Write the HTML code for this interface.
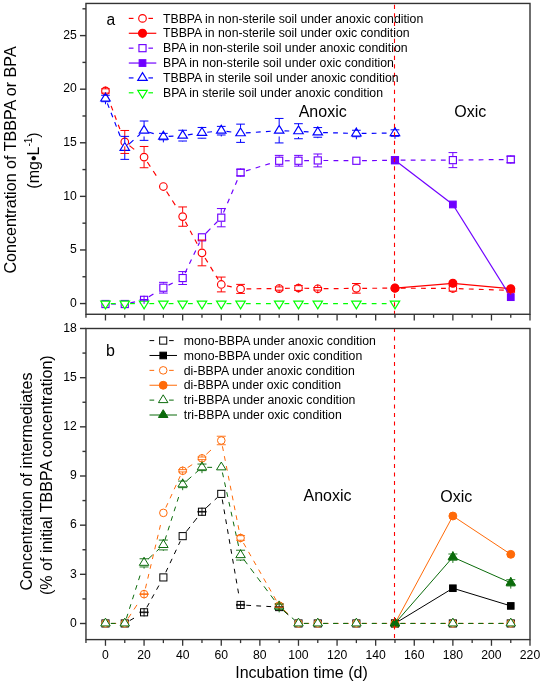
<!DOCTYPE html>
<html lang="en"><head><meta charset="utf-8"><title>Figure</title>
<style>html,body{margin:0;padding:0;background:#fff}body{width:543px;height:685px;overflow:hidden}</style></head>
<body>
<svg width="543" height="685" viewBox="0 0 543 685" style="display:block" font-family='"Liberation Sans", sans-serif'>
<rect width="543" height="685" fill="#fff"/>
<line x1="107.56" y1="96.47" x2="119.92" y2="129.16" stroke="#ff0000" stroke-width="1.18" stroke-dasharray="4.8 5.25"/>
<line x1="129.41" y1="145.61" x2="134.21" y2="149.37" stroke="#ff0000" stroke-width="1.18" stroke-dasharray="6.09 5.25"/>
<line x1="147.31" y1="162.04" x2="156.24" y2="175.66" stroke="#ff0000" stroke-width="1.18" stroke-dasharray="5.52 5.25"/>
<line x1="166.56" y1="191.5" x2="175.26" y2="205.06" stroke="#ff0000" stroke-width="1.18" stroke-dasharray="5.43 5.25"/>
<line x1="185.44" y1="221.82" x2="199.2" y2="247.7" stroke="#ff0000" stroke-width="1.18" stroke-dasharray="4.8 5.25"/>
<line x1="205.05" y1="257.94" x2="218.19" y2="279.45" stroke="#ff0000" stroke-width="1.18" stroke-dasharray="5.23 5.25"/>
<line x1="227.02" y1="285.8" x2="234.82" y2="287.57" stroke="#ff0000" stroke-width="1.18" stroke-dasharray="4.8 5.25"/>
<line x1="246.47" y1="288.84" x2="273.27" y2="288.61" stroke="#ff0000" stroke-width="1.18" stroke-dasharray="4.8 5.25"/>
<line x1="285.07" y1="288.4" x2="292.57" y2="288.19" stroke="#ff0000" stroke-width="1.18" stroke-dasharray="4.8 5.25"/>
<line x1="304.37" y1="288.26" x2="311.87" y2="288.55" stroke="#ff0000" stroke-width="1.18" stroke-dasharray="4.8 5.25"/>
<line x1="323.67" y1="288.71" x2="350.47" y2="288.41" stroke="#ff0000" stroke-width="1.18" stroke-dasharray="4.8 5.25"/>
<line x1="362.27" y1="288.32" x2="389.07" y2="288.17" stroke="#ff0000" stroke-width="1.18" stroke-dasharray="4.8 5.25"/>
<line x1="400.87" y1="288.17" x2="446.97" y2="288.42" stroke="#ff0000" stroke-width="1.18" stroke-dasharray="4.8 5.25"/>
<line x1="458.77" y1="288.65" x2="504.87" y2="290.19" stroke="#ff0000" stroke-width="1.18" stroke-dasharray="4.8 5.25"/>
<circle cx="105.47" cy="90.95" r="3.8" fill="#fff" stroke="#ff0000" stroke-width="1.15"/>
<circle cx="124.77" cy="141.96" r="3.8" fill="#fff" stroke="#ff0000" stroke-width="1.15"/>
<circle cx="144.07" cy="157.11" r="3.8" fill="#fff" stroke="#ff0000" stroke-width="1.15"/>
<circle cx="163.37" cy="186.53" r="3.8" fill="#fff" stroke="#ff0000" stroke-width="1.15"/>
<circle cx="182.67" cy="216.61" r="3.8" fill="#fff" stroke="#ff0000" stroke-width="1.15"/>
<circle cx="201.97" cy="252.91" r="3.8" fill="#fff" stroke="#ff0000" stroke-width="1.15"/>
<circle cx="221.27" cy="284.48" r="3.8" fill="#fff" stroke="#ff0000" stroke-width="1.15"/>
<circle cx="240.57" cy="288.89" r="3.8" fill="#fff" stroke="#ff0000" stroke-width="1.15"/>
<circle cx="279.17" cy="288.56" r="3.8" fill="#fff" stroke="#ff0000" stroke-width="1.15"/>
<circle cx="298.47" cy="288.03" r="3.8" fill="#fff" stroke="#ff0000" stroke-width="1.15"/>
<circle cx="317.77" cy="288.78" r="3.8" fill="#fff" stroke="#ff0000" stroke-width="1.15"/>
<circle cx="356.37" cy="288.35" r="3.8" fill="#fff" stroke="#ff0000" stroke-width="1.15"/>
<circle cx="394.97" cy="288.13" r="3.8" fill="#fff" stroke="#ff0000" stroke-width="1.15"/>
<circle cx="452.87" cy="288.46" r="3.8" fill="#fff" stroke="#ff0000" stroke-width="1.15"/>
<circle cx="510.77" cy="290.39" r="3.8" fill="#fff" stroke="#ff0000" stroke-width="1.15"/>
<line x1="394.97" y1="288.13" x2="452.87" y2="283.3" stroke="#ff0000" stroke-width="1.18"/>
<line x1="452.87" y1="283.3" x2="510.77" y2="288.78" stroke="#ff0000" stroke-width="1.18"/>
<circle cx="394.97" cy="288.13" r="3.95" fill="#ff0000" stroke="#ff0000" stroke-width="1.15"/>
<circle cx="452.87" cy="283.3" r="3.95" fill="#ff0000" stroke="#ff0000" stroke-width="1.15"/>
<circle cx="510.77" cy="288.78" r="3.95" fill="#ff0000" stroke="#ff0000" stroke-width="1.15"/>
<line x1="111.17" y1="304.03" x2="119.07" y2="304.03" stroke="#6f00ff" stroke-width="1.18" stroke-dasharray="4.8 5.25"/>
<line x1="130.34" y1="302.82" x2="138.5" y2="301.05" stroke="#6f00ff" stroke-width="1.18" stroke-dasharray="4.8 5.25"/>
<line x1="148.9" y1="296.81" x2="153.42" y2="293.96" stroke="#6f00ff" stroke-width="1.18" stroke-dasharray="5.35 5.25"/>
<line x1="168.47" y1="285.15" x2="172.76" y2="283" stroke="#6f00ff" stroke-width="1.18" stroke-dasharray="4.8 5.25"/>
<line x1="185.11" y1="272.89" x2="199.53" y2="242.48" stroke="#6f00ff" stroke-width="1.18" stroke-dasharray="4.8 5.25"/>
<line x1="205.96" y1="233.27" x2="217.28" y2="221.75" stroke="#6f00ff" stroke-width="1.18" stroke-dasharray="6.4 5.25"/>
<line x1="223.51" y1="212.44" x2="238.33" y2="177.81" stroke="#6f00ff" stroke-width="1.18" stroke-dasharray="4.8 5.25"/>
<line x1="246.02" y1="170.9" x2="273.72" y2="162.43" stroke="#6f00ff" stroke-width="1.18" stroke-dasharray="4.8 5.25"/>
<line x1="284.87" y1="160.76" x2="292.77" y2="160.76" stroke="#6f00ff" stroke-width="1.18" stroke-dasharray="4.8 5.25"/>
<line x1="304.17" y1="160.66" x2="312.07" y2="160.53" stroke="#6f00ff" stroke-width="1.18" stroke-dasharray="4.8 5.25"/>
<line x1="323.47" y1="160.48" x2="350.67" y2="160.71" stroke="#6f00ff" stroke-width="1.18" stroke-dasharray="4.8 5.25"/>
<line x1="362.07" y1="160.68" x2="389.27" y2="160.3" stroke="#6f00ff" stroke-width="1.18" stroke-dasharray="4.8 5.25"/>
<line x1="400.67" y1="160.21" x2="447.17" y2="160.12" stroke="#6f00ff" stroke-width="1.18" stroke-dasharray="4.8 5.25"/>
<line x1="458.57" y1="160.05" x2="505.07" y2="159.53" stroke="#6f00ff" stroke-width="1.18" stroke-dasharray="4.8 5.25"/>
<rect x="101.92" y="300.48" width="7.1" height="7.1" fill="#fff" stroke="#6f00ff" stroke-width="1.15"/>
<rect x="121.22" y="300.48" width="7.1" height="7.1" fill="#fff" stroke="#6f00ff" stroke-width="1.15"/>
<rect x="140.52" y="296.29" width="7.1" height="7.1" fill="#fff" stroke="#6f00ff" stroke-width="1.15"/>
<rect x="159.82" y="284.15" width="7.1" height="7.1" fill="#fff" stroke="#6f00ff" stroke-width="1.15"/>
<rect x="179.12" y="274.49" width="7.1" height="7.1" fill="#fff" stroke="#6f00ff" stroke-width="1.15"/>
<rect x="198.42" y="233.78" width="7.1" height="7.1" fill="#fff" stroke="#6f00ff" stroke-width="1.15"/>
<rect x="217.72" y="214.13" width="7.1" height="7.1" fill="#fff" stroke="#6f00ff" stroke-width="1.15"/>
<rect x="237.02" y="169.02" width="7.1" height="7.1" fill="#fff" stroke="#6f00ff" stroke-width="1.15"/>
<rect x="275.62" y="157.21" width="7.1" height="7.1" fill="#fff" stroke="#6f00ff" stroke-width="1.15"/>
<rect x="294.92" y="157.21" width="7.1" height="7.1" fill="#fff" stroke="#6f00ff" stroke-width="1.15"/>
<rect x="314.22" y="156.89" width="7.1" height="7.1" fill="#fff" stroke="#6f00ff" stroke-width="1.15"/>
<rect x="352.82" y="157.21" width="7.1" height="7.1" fill="#fff" stroke="#6f00ff" stroke-width="1.15"/>
<rect x="391.42" y="156.67" width="7.1" height="7.1" fill="#fff" stroke="#6f00ff" stroke-width="1.15"/>
<rect x="449.32" y="156.56" width="7.1" height="7.1" fill="#fff" stroke="#6f00ff" stroke-width="1.15"/>
<rect x="507.22" y="155.92" width="7.1" height="7.1" fill="#fff" stroke="#6f00ff" stroke-width="1.15"/>
<line x1="394.97" y1="160.22" x2="452.87" y2="204.47" stroke="#6f00ff" stroke-width="1.18"/>
<line x1="452.87" y1="204.47" x2="510.77" y2="297.16" stroke="#6f00ff" stroke-width="1.18"/>
<rect x="391.67" y="156.92" width="6.6" height="6.6" fill="#6f00ff" stroke="#6f00ff" stroke-width="1.15"/>
<rect x="449.57" y="201.17" width="6.6" height="6.6" fill="#6f00ff" stroke="#6f00ff" stroke-width="1.15"/>
<rect x="507.47" y="293.86" width="6.6" height="6.6" fill="#6f00ff" stroke="#6f00ff" stroke-width="1.15"/>
<line x1="107.4" y1="103.4" x2="120.12" y2="135.96" stroke="#0000ff" stroke-width="1.18" stroke-dasharray="4.8 5.25"/>
<line x1="128.73" y1="144.35" x2="140.11" y2="134.21" stroke="#0000ff" stroke-width="1.18" stroke-dasharray="6.33 5.25"/>
<line x1="149.14" y1="132.24" x2="158.3" y2="135.04" stroke="#0000ff" stroke-width="1.18" stroke-dasharray="4.8 5.25"/>
<line x1="168.66" y1="136.33" x2="177.38" y2="135.89" stroke="#0000ff" stroke-width="1.18" stroke-dasharray="4.8 5.25"/>
<line x1="187.92" y1="134.87" x2="196.72" y2="133.59" stroke="#0000ff" stroke-width="1.18" stroke-dasharray="4.8 5.25"/>
<line x1="207.24" y1="132.25" x2="216" y2="131.27" stroke="#0000ff" stroke-width="1.18" stroke-dasharray="4.8 5.25"/>
<line x1="226.52" y1="131.39" x2="235.32" y2="132.56" stroke="#0000ff" stroke-width="1.18" stroke-dasharray="4.8 5.25"/>
<line x1="245.86" y1="132.91" x2="273.88" y2="131.04" stroke="#0000ff" stroke-width="1.18" stroke-dasharray="4.8 5.25"/>
<line x1="284.47" y1="130.83" x2="293.17" y2="131.08" stroke="#0000ff" stroke-width="1.18" stroke-dasharray="4.8 5.25"/>
<line x1="303.76" y1="131.55" x2="312.48" y2="132.08" stroke="#0000ff" stroke-width="1.18" stroke-dasharray="4.8 5.25"/>
<line x1="323.07" y1="132.55" x2="351.07" y2="133.33" stroke="#0000ff" stroke-width="1.18" stroke-dasharray="4.8 5.25"/>
<line x1="361.67" y1="133.42" x2="389.67" y2="133.11" stroke="#0000ff" stroke-width="1.18" stroke-dasharray="4.8 5.25"/>
<path d="M105.47 93.17L110.22 100.97L100.72 100.97Z" fill="#fff" stroke="#0000ff" stroke-width="1.15"/>
<path d="M124.77 142.57L129.52 150.37L120.02 150.37Z" fill="#fff" stroke="#0000ff" stroke-width="1.15"/>
<path d="M144.07 125.39L148.82 133.19L139.32 133.19Z" fill="#fff" stroke="#0000ff" stroke-width="1.15"/>
<path d="M163.37 131.29L168.12 139.09L158.62 139.09Z" fill="#fff" stroke="#0000ff" stroke-width="1.15"/>
<path d="M182.67 130.33L187.42 138.13L177.92 138.13Z" fill="#fff" stroke="#0000ff" stroke-width="1.15"/>
<path d="M201.97 127.53L206.72 135.33L197.22 135.33Z" fill="#fff" stroke="#0000ff" stroke-width="1.15"/>
<path d="M221.27 125.39L226.02 133.19L216.52 133.19Z" fill="#fff" stroke="#0000ff" stroke-width="1.15"/>
<path d="M240.57 127.96L245.32 135.76L235.82 135.76Z" fill="#fff" stroke="#0000ff" stroke-width="1.15"/>
<path d="M279.17 125.39L283.92 133.19L274.42 133.19Z" fill="#fff" stroke="#0000ff" stroke-width="1.15"/>
<path d="M298.47 125.92L303.22 133.72L293.72 133.72Z" fill="#fff" stroke="#0000ff" stroke-width="1.15"/>
<path d="M317.77 127.1L322.52 134.9L313.02 134.9Z" fill="#fff" stroke="#0000ff" stroke-width="1.15"/>
<path d="M356.37 128.18L361.12 135.98L351.62 135.98Z" fill="#fff" stroke="#0000ff" stroke-width="1.15"/>
<path d="M394.97 127.75L399.72 135.55L390.22 135.55Z" fill="#fff" stroke="#0000ff" stroke-width="1.15"/>
<line x1="110.77" y1="303.6" x2="119.47" y2="303.6" stroke="#00ff00" stroke-width="1.18" stroke-dasharray="4.8 5.25"/>
<line x1="130.07" y1="303.6" x2="138.77" y2="303.6" stroke="#00ff00" stroke-width="1.18" stroke-dasharray="4.8 5.25"/>
<line x1="149.37" y1="303.6" x2="158.07" y2="303.6" stroke="#00ff00" stroke-width="1.18" stroke-dasharray="4.8 5.25"/>
<line x1="168.67" y1="303.6" x2="177.37" y2="303.6" stroke="#00ff00" stroke-width="1.18" stroke-dasharray="4.8 5.25"/>
<line x1="187.97" y1="303.6" x2="196.67" y2="303.6" stroke="#00ff00" stroke-width="1.18" stroke-dasharray="4.8 5.25"/>
<line x1="207.27" y1="303.6" x2="215.97" y2="303.6" stroke="#00ff00" stroke-width="1.18" stroke-dasharray="4.8 5.25"/>
<line x1="226.57" y1="303.6" x2="235.27" y2="303.6" stroke="#00ff00" stroke-width="1.18" stroke-dasharray="4.8 5.25"/>
<line x1="245.87" y1="303.6" x2="273.87" y2="303.6" stroke="#00ff00" stroke-width="1.18" stroke-dasharray="4.8 5.25"/>
<line x1="284.47" y1="303.6" x2="293.17" y2="303.6" stroke="#00ff00" stroke-width="1.18" stroke-dasharray="4.8 5.25"/>
<line x1="303.77" y1="303.6" x2="312.47" y2="303.6" stroke="#00ff00" stroke-width="1.18" stroke-dasharray="4.8 5.25"/>
<line x1="323.07" y1="303.6" x2="351.07" y2="303.6" stroke="#00ff00" stroke-width="1.18" stroke-dasharray="4.8 5.25"/>
<line x1="361.67" y1="303.6" x2="389.67" y2="303.6" stroke="#00ff00" stroke-width="1.18" stroke-dasharray="4.8 5.25"/>
<path d="M105.47 308.9L110.22 301.1L100.72 301.1Z" fill="#fff" stroke="#00ff00" stroke-width="1.15"/>
<path d="M124.77 308.9L129.52 301.1L120.02 301.1Z" fill="#fff" stroke="#00ff00" stroke-width="1.15"/>
<path d="M144.07 308.9L148.82 301.1L139.32 301.1Z" fill="#fff" stroke="#00ff00" stroke-width="1.15"/>
<path d="M163.37 308.9L168.12 301.1L158.62 301.1Z" fill="#fff" stroke="#00ff00" stroke-width="1.15"/>
<path d="M182.67 308.9L187.42 301.1L177.92 301.1Z" fill="#fff" stroke="#00ff00" stroke-width="1.15"/>
<path d="M201.97 308.9L206.72 301.1L197.22 301.1Z" fill="#fff" stroke="#00ff00" stroke-width="1.15"/>
<path d="M221.27 308.9L226.02 301.1L216.52 301.1Z" fill="#fff" stroke="#00ff00" stroke-width="1.15"/>
<path d="M240.57 308.9L245.32 301.1L235.82 301.1Z" fill="#fff" stroke="#00ff00" stroke-width="1.15"/>
<path d="M279.17 308.9L283.92 301.1L274.42 301.1Z" fill="#fff" stroke="#00ff00" stroke-width="1.15"/>
<path d="M298.47 308.9L303.22 301.1L293.72 301.1Z" fill="#fff" stroke="#00ff00" stroke-width="1.15"/>
<path d="M317.77 308.9L322.52 301.1L313.02 301.1Z" fill="#fff" stroke="#00ff00" stroke-width="1.15"/>
<path d="M356.37 308.9L361.12 301.1L351.62 301.1Z" fill="#fff" stroke="#00ff00" stroke-width="1.15"/>
<path d="M394.97 308.9L399.72 301.1L390.22 301.1Z" fill="#fff" stroke="#00ff00" stroke-width="1.15"/>
<path d="M105.47 88.8V86.57M105.47 95.32V93.1M101.12 88.8H109.82M101.12 93.1H109.82" stroke="#ff0000" stroke-width="1.0" fill="none"/>
<path d="M124.77 130.47V137.59M124.77 146.34V153.45M120.42 130.47H129.12M120.42 153.45H129.12" stroke="#ff0000" stroke-width="1.0" fill="none"/>
<path d="M144.07 146.47V152.73M144.07 161.48V167.74M139.72 146.47H148.42M139.72 167.74H148.42" stroke="#ff0000" stroke-width="1.0" fill="none"/>
<path d="M182.67 206.94V212.23M182.67 220.98V226.27M178.32 206.94H187.02M178.32 226.27H187.02" stroke="#ff0000" stroke-width="1.0" fill="none"/>
<path d="M201.97 240.02V248.53M201.97 257.28V265.8M197.62 240.02H206.32M197.62 265.8H206.32" stroke="#ff0000" stroke-width="1.0" fill="none"/>
<path d="M221.27 277.07V280.11M221.27 288.86V291.89M216.92 277.07H225.62M216.92 291.89H225.62" stroke="#ff0000" stroke-width="1.0" fill="none"/>
<path d="M236.22 284.38H244.92M236.22 293.4H244.92" stroke="#ff0000" stroke-width="1.0" fill="none"/>
<path d="M279.17 286.95V284.19M279.17 292.94V290.18M274.82 286.95H283.52M274.82 290.18H283.52" stroke="#ff0000" stroke-width="1.0" fill="none"/>
<path d="M298.47 285.66V283.65M298.47 292.4V290.39M294.12 285.66H302.82M294.12 290.39H302.82" stroke="#ff0000" stroke-width="1.0" fill="none"/>
<path d="M317.77 287.49V284.4M317.77 293.15V290.07M313.42 287.49H322.12M313.42 290.07H322.12" stroke="#ff0000" stroke-width="1.0" fill="none"/>
<path d="M356.37 283.52V283.97M356.37 292.72V293.18M352.02 283.52H360.72M352.02 293.18H360.72" stroke="#ff0000" stroke-width="1.0" fill="none"/>
<path d="M452.87 285.77V284.08M452.87 292.83V291.14M448.52 285.77H457.22M448.52 291.14H457.22" stroke="#ff0000" stroke-width="1.0" fill="none"/>
<path d="M510.77 288.78V286.01M510.77 294.76V292M506.42 288.78H515.12M506.42 292H515.12" stroke="#ff0000" stroke-width="1.0" fill="none"/>
<path d="M144.07 299.52V295.72M144.07 303.97V300.16M139.72 299.52H148.42M139.72 300.16H148.42" stroke="#6f00ff" stroke-width="1.0" fill="none"/>
<path d="M163.37 282.33V283.58M163.37 291.83V293.07M159.02 282.33H167.72M159.02 293.07H167.72" stroke="#6f00ff" stroke-width="1.0" fill="none"/>
<path d="M182.67 271.59V273.91M182.67 282.16V284.48M178.32 271.59H187.02M178.32 284.48H187.02" stroke="#6f00ff" stroke-width="1.0" fill="none"/>
<path d="M221.27 208.55V213.56M221.27 221.81V226.81M216.92 208.55H225.62M216.92 226.81H225.62" stroke="#6f00ff" stroke-width="1.0" fill="none"/>
<path d="M240.57 169.35V168.45M240.57 176.7V175.79M236.22 169.35H244.92M236.22 175.79H244.92" stroke="#6f00ff" stroke-width="1.0" fill="none"/>
<path d="M279.17 155.39V156.63M279.17 164.88V166.13M274.82 155.39H283.52M274.82 166.13H283.52" stroke="#6f00ff" stroke-width="1.0" fill="none"/>
<path d="M298.47 155.39V156.63M298.47 164.88V166.13M294.12 155.39H302.82M294.12 166.13H302.82" stroke="#6f00ff" stroke-width="1.0" fill="none"/>
<path d="M317.77 153.99V156.31M317.77 164.56V166.88M313.42 153.99H322.12M313.42 166.88H322.12" stroke="#6f00ff" stroke-width="1.0" fill="none"/>
<path d="M452.87 152.6V155.99M452.87 164.24V167.63M448.52 152.6H457.22M448.52 167.63H457.22" stroke="#6f00ff" stroke-width="1.0" fill="none"/>
<path d="M510.77 156.25V155.34M510.77 163.59V162.69M506.42 156.25H515.12M506.42 162.69H515.12" stroke="#6f00ff" stroke-width="1.0" fill="none"/>
<path d="M105.47 95.24V92.67M105.47 104.27V101.69M101.12 95.24H109.82M101.12 101.69H109.82" stroke="#0000ff" stroke-width="1.0" fill="none"/>
<path d="M124.77 136.38V142.07M124.77 153.67V159.36M120.42 136.38H129.12M120.42 159.36H129.12" stroke="#0000ff" stroke-width="1.0" fill="none"/>
<path d="M144.07 121.02V124.89M144.07 136.49V140.35M139.72 121.02H148.42M139.72 140.35H148.42" stroke="#0000ff" stroke-width="1.0" fill="none"/>
<path d="M163.37 133.37V130.79M163.37 142.39V139.82M159.02 133.37H167.72M159.02 139.82H167.72" stroke="#0000ff" stroke-width="1.0" fill="none"/>
<path d="M182.67 130.26V129.83M182.67 141.43V141M178.32 130.26H187.02M178.32 141H187.02" stroke="#0000ff" stroke-width="1.0" fill="none"/>
<path d="M201.97 127.46V127.03M201.97 138.63V138.2M197.62 127.46H206.32M197.62 138.2H206.32" stroke="#0000ff" stroke-width="1.0" fill="none"/>
<path d="M221.27 126.39V124.89M221.27 136.49V134.98M216.92 126.39H225.62M216.92 134.98H225.62" stroke="#0000ff" stroke-width="1.0" fill="none"/>
<path d="M240.57 124.13V127.46M240.57 139.06V142.39M236.22 124.13H244.92M236.22 142.39H244.92" stroke="#0000ff" stroke-width="1.0" fill="none"/>
<path d="M279.17 118.44V124.89M279.17 136.49V142.93M274.82 118.44H283.52M274.82 142.93H283.52" stroke="#0000ff" stroke-width="1.0" fill="none"/>
<path d="M298.47 123.71V125.42M298.47 137.02V138.74M294.12 123.71H302.82M294.12 138.74H302.82" stroke="#0000ff" stroke-width="1.0" fill="none"/>
<path d="M317.77 127.57V126.6M317.77 138.2V137.24M313.42 127.57H322.12M313.42 137.24H322.12" stroke="#0000ff" stroke-width="1.0" fill="none"/>
<path d="M356.37 130.26V127.68M356.37 139.28V136.7M352.02 130.26H360.72M352.02 136.7H360.72" stroke="#0000ff" stroke-width="1.0" fill="none"/>
<path d="M394.97 129.83V127.25M394.97 138.85V136.27M390.62 129.83H399.32M390.62 136.27H399.32" stroke="#0000ff" stroke-width="1.0" fill="none"/>
<line x1="111.17" y1="623.45" x2="119.07" y2="623.45" stroke="#000000" stroke-width="1.0" stroke-dasharray="4.8 5.25"/>
<line x1="129.71" y1="620.6" x2="134.01" y2="618.12" stroke="#000000" stroke-width="1.0" stroke-dasharray="4.97 5.25"/>
<line x1="146.83" y1="607.32" x2="160.61" y2="582.41" stroke="#000000" stroke-width="1.0" stroke-dasharray="4.8 5.25"/>
<line x1="165.78" y1="572.26" x2="180.26" y2="541.31" stroke="#000000" stroke-width="1.0" stroke-dasharray="4.8 5.25"/>
<line x1="186.21" y1="531.67" x2="198.43" y2="516.21" stroke="#000000" stroke-width="1.0" stroke-dasharray="6.11 5.25"/>
<line x1="206.15" y1="507.87" x2="217.09" y2="497.75" stroke="#000000" stroke-width="1.0" stroke-dasharray="6.37 5.25"/>
<line x1="222.25" y1="499.5" x2="238.55" y2="593.34" stroke="#000000" stroke-width="1.0" stroke-dasharray="4.8 5.25"/>
<line x1="246.26" y1="605.25" x2="273.48" y2="606.76" stroke="#000000" stroke-width="1.0" stroke-dasharray="4.8 5.25"/>
<line x1="283.52" y1="610.76" x2="288.29" y2="614.81" stroke="#000000" stroke-width="1.0" stroke-dasharray="6.26 5.25"/>
<line x1="304.17" y1="623.45" x2="312.07" y2="623.45" stroke="#000000" stroke-width="1.0" stroke-dasharray="4.8 5.25"/>
<line x1="323.47" y1="623.45" x2="350.67" y2="623.45" stroke="#000000" stroke-width="1.0" stroke-dasharray="4.8 5.25"/>
<line x1="362.07" y1="623.45" x2="389.27" y2="623.45" stroke="#000000" stroke-width="1.0" stroke-dasharray="4.8 5.25"/>
<line x1="400.67" y1="623.45" x2="447.17" y2="623.45" stroke="#000000" stroke-width="1.0" stroke-dasharray="4.8 5.25"/>
<line x1="458.57" y1="623.45" x2="505.07" y2="623.45" stroke="#000000" stroke-width="1.0" stroke-dasharray="4.8 5.25"/>
<rect x="101.92" y="619.9" width="7.1" height="7.1" fill="#fff" stroke="#000000" stroke-width="1.0"/>
<rect x="121.22" y="619.9" width="7.1" height="7.1" fill="#fff" stroke="#000000" stroke-width="1.0"/>
<rect x="140.52" y="608.76" width="7.1" height="7.1" fill="#fff" stroke="#000000" stroke-width="1.0"/>
<rect x="159.82" y="573.87" width="7.1" height="7.1" fill="#fff" stroke="#000000" stroke-width="1.0"/>
<rect x="179.12" y="532.59" width="7.1" height="7.1" fill="#fff" stroke="#000000" stroke-width="1.0"/>
<rect x="198.42" y="508.19" width="7.1" height="7.1" fill="#fff" stroke="#000000" stroke-width="1.0"/>
<rect x="217.72" y="490.33" width="7.1" height="7.1" fill="#fff" stroke="#000000" stroke-width="1.0"/>
<rect x="237.02" y="601.39" width="7.1" height="7.1" fill="#fff" stroke="#000000" stroke-width="1.0"/>
<rect x="275.62" y="603.52" width="7.1" height="7.1" fill="#fff" stroke="#000000" stroke-width="1.0"/>
<rect x="294.92" y="619.9" width="7.1" height="7.1" fill="#fff" stroke="#000000" stroke-width="1.0"/>
<rect x="314.22" y="619.9" width="7.1" height="7.1" fill="#fff" stroke="#000000" stroke-width="1.0"/>
<rect x="352.82" y="619.9" width="7.1" height="7.1" fill="#fff" stroke="#000000" stroke-width="1.0"/>
<rect x="391.42" y="619.9" width="7.1" height="7.1" fill="#fff" stroke="#000000" stroke-width="1.0"/>
<rect x="449.32" y="619.9" width="7.1" height="7.1" fill="#fff" stroke="#000000" stroke-width="1.0"/>
<rect x="507.22" y="619.9" width="7.1" height="7.1" fill="#fff" stroke="#000000" stroke-width="1.0"/>
<line x1="394.97" y1="623.45" x2="452.87" y2="588.23" stroke="#000000" stroke-width="1.0"/>
<line x1="452.87" y1="588.23" x2="510.77" y2="605.92" stroke="#000000" stroke-width="1.0"/>
<rect x="391.67" y="620.15" width="6.6" height="6.6" fill="#000000" stroke="#000000" stroke-width="1.0"/>
<rect x="449.57" y="584.93" width="6.6" height="6.6" fill="#000000" stroke="#000000" stroke-width="1.0"/>
<rect x="507.47" y="602.62" width="6.6" height="6.6" fill="#000000" stroke="#000000" stroke-width="1.0"/>
<line x1="111.37" y1="623.45" x2="118.87" y2="623.45" stroke="#ff6a08" stroke-width="1.0" stroke-dasharray="4.8 5.25"/>
<line x1="128.01" y1="618.52" x2="136.98" y2="604.9" stroke="#ff6a08" stroke-width="1.0" stroke-dasharray="5.53 5.25"/>
<line x1="145.43" y1="588.39" x2="160.48" y2="525.05" stroke="#ff6a08" stroke-width="1.0" stroke-dasharray="4.8 5.25"/>
<line x1="165.83" y1="507.52" x2="180.21" y2="476.15" stroke="#ff6a08" stroke-width="1.0" stroke-dasharray="4.8 5.25"/>
<line x1="187.63" y1="467.59" x2="192.21" y2="464.64" stroke="#ff6a08" stroke-width="1.0" stroke-dasharray="5.45 5.25"/>
<line x1="206.3" y1="454.33" x2="210.98" y2="450.01" stroke="#ff6a08" stroke-width="1.0" stroke-dasharray="6.37 5.25"/>
<line x1="222.42" y1="446.27" x2="239.42" y2="532.16" stroke="#ff6a08" stroke-width="1.0" stroke-dasharray="4.8 5.25"/>
<line x1="243.49" y1="543.07" x2="276.25" y2="600.47" stroke="#ff6a08" stroke-width="1.0" stroke-dasharray="4.92 5.25"/>
<line x1="283.5" y1="609.6" x2="288.18" y2="613.93" stroke="#ff6a08" stroke-width="1.0" stroke-dasharray="6.37 5.25"/>
<line x1="304.37" y1="623.45" x2="311.87" y2="623.45" stroke="#ff6a08" stroke-width="1.0" stroke-dasharray="4.8 5.25"/>
<line x1="323.67" y1="623.45" x2="350.47" y2="623.45" stroke="#ff6a08" stroke-width="1.0" stroke-dasharray="4.8 5.25"/>
<line x1="362.27" y1="623.45" x2="389.07" y2="623.45" stroke="#ff6a08" stroke-width="1.0" stroke-dasharray="4.8 5.25"/>
<line x1="400.87" y1="623.45" x2="446.97" y2="623.45" stroke="#ff6a08" stroke-width="1.0" stroke-dasharray="4.8 5.25"/>
<line x1="458.77" y1="623.45" x2="504.87" y2="623.45" stroke="#ff6a08" stroke-width="1.0" stroke-dasharray="4.8 5.25"/>
<circle cx="105.47" cy="623.45" r="3.8" fill="#fff" stroke="#ff6a08" stroke-width="1.0"/>
<circle cx="124.77" cy="623.45" r="3.8" fill="#fff" stroke="#ff6a08" stroke-width="1.0"/>
<circle cx="144.07" cy="594.13" r="3.8" fill="#fff" stroke="#ff6a08" stroke-width="1.0"/>
<circle cx="163.37" cy="512.88" r="3.8" fill="#fff" stroke="#ff6a08" stroke-width="1.0"/>
<circle cx="182.67" cy="470.79" r="3.8" fill="#fff" stroke="#ff6a08" stroke-width="1.0"/>
<circle cx="201.97" cy="458.34" r="3.8" fill="#fff" stroke="#ff6a08" stroke-width="1.0"/>
<circle cx="221.27" cy="440.49" r="3.8" fill="#fff" stroke="#ff6a08" stroke-width="1.0"/>
<circle cx="240.57" cy="537.95" r="3.8" fill="#fff" stroke="#ff6a08" stroke-width="1.0"/>
<circle cx="279.17" cy="605.6" r="3.8" fill="#fff" stroke="#ff6a08" stroke-width="1.0"/>
<circle cx="298.47" cy="623.45" r="3.8" fill="#fff" stroke="#ff6a08" stroke-width="1.0"/>
<circle cx="317.77" cy="623.45" r="3.8" fill="#fff" stroke="#ff6a08" stroke-width="1.0"/>
<circle cx="356.37" cy="623.45" r="3.8" fill="#fff" stroke="#ff6a08" stroke-width="1.0"/>
<circle cx="394.97" cy="623.45" r="3.8" fill="#fff" stroke="#ff6a08" stroke-width="1.0"/>
<circle cx="452.87" cy="623.45" r="3.8" fill="#fff" stroke="#ff6a08" stroke-width="1.0"/>
<circle cx="510.77" cy="623.45" r="3.8" fill="#fff" stroke="#ff6a08" stroke-width="1.0"/>
<line x1="394.97" y1="623.45" x2="452.87" y2="516" stroke="#ff6a08" stroke-width="1.0"/>
<line x1="452.87" y1="516" x2="510.77" y2="554.33" stroke="#ff6a08" stroke-width="1.0"/>
<circle cx="394.97" cy="623.45" r="3.95" fill="#ff6a08" stroke="#ff6a08" stroke-width="1.0"/>
<circle cx="452.87" cy="516" r="3.95" fill="#ff6a08" stroke="#ff6a08" stroke-width="1.0"/>
<circle cx="510.77" cy="554.33" r="3.95" fill="#ff6a08" stroke="#ff6a08" stroke-width="1.0"/>
<line x1="110.77" y1="623.45" x2="119.47" y2="623.45" stroke="#0b6b0b" stroke-width="1.0" stroke-dasharray="4.8 5.25"/>
<line x1="126.38" y1="618.4" x2="140.03" y2="575.52" stroke="#0b6b0b" stroke-width="1.0" stroke-dasharray="4.8 5.25"/>
<line x1="147.96" y1="559.24" x2="159.48" y2="548.59" stroke="#0b6b0b" stroke-width="1.0" stroke-dasharray="6.37 5.25"/>
<line x1="164.98" y1="539.94" x2="178.63" y2="497.06" stroke="#0b6b0b" stroke-width="1.0" stroke-dasharray="4.8 5.25"/>
<line x1="186.64" y1="480.88" x2="198" y2="470.86" stroke="#0b6b0b" stroke-width="1.0" stroke-dasharray="6.32 5.25"/>
<line x1="207.27" y1="467.35" x2="215.97" y2="467.35" stroke="#0b6b0b" stroke-width="1.0" stroke-dasharray="4.8 5.25"/>
<line x1="222.41" y1="472.53" x2="239.43" y2="549.97" stroke="#0b6b0b" stroke-width="1.0" stroke-dasharray="4.8 5.25"/>
<line x1="243.75" y1="559.38" x2="275.99" y2="602.34" stroke="#0b6b0b" stroke-width="1.0" stroke-dasharray="5.98 5.25"/>
<line x1="283.16" y1="610.07" x2="294.48" y2="619.96" stroke="#0b6b0b" stroke-width="1.0" stroke-dasharray="6.3 5.25"/>
<line x1="303.77" y1="623.45" x2="312.47" y2="623.45" stroke="#0b6b0b" stroke-width="1.0" stroke-dasharray="4.8 5.25"/>
<line x1="323.07" y1="623.45" x2="351.07" y2="623.45" stroke="#0b6b0b" stroke-width="1.0" stroke-dasharray="4.8 5.25"/>
<line x1="361.67" y1="623.45" x2="389.67" y2="623.45" stroke="#0b6b0b" stroke-width="1.0" stroke-dasharray="4.8 5.25"/>
<line x1="400.27" y1="623.45" x2="447.57" y2="623.45" stroke="#0b6b0b" stroke-width="1.0" stroke-dasharray="4.8 5.25"/>
<line x1="458.17" y1="623.45" x2="505.47" y2="623.45" stroke="#0b6b0b" stroke-width="1.0" stroke-dasharray="4.8 5.25"/>
<path d="M105.47 618.15L110.22 625.95L100.72 625.95Z" fill="#fff" stroke="#0b6b0b" stroke-width="1.0"/>
<path d="M124.77 618.15L129.52 625.95L120.02 625.95Z" fill="#fff" stroke="#0b6b0b" stroke-width="1.0"/>
<path d="M144.07 557.54L148.82 565.34L139.32 565.34Z" fill="#fff" stroke="#0b6b0b" stroke-width="1.0"/>
<path d="M163.37 539.69L168.12 547.49L158.62 547.49Z" fill="#fff" stroke="#0b6b0b" stroke-width="1.0"/>
<path d="M182.67 479.08L187.42 486.88L177.92 486.88Z" fill="#fff" stroke="#0b6b0b" stroke-width="1.0"/>
<path d="M201.97 462.05L206.72 469.85L197.22 469.85Z" fill="#fff" stroke="#0b6b0b" stroke-width="1.0"/>
<path d="M221.27 462.05L226.02 469.85L216.52 469.85Z" fill="#fff" stroke="#0b6b0b" stroke-width="1.0"/>
<path d="M240.57 549.85L245.32 557.65L235.82 557.65Z" fill="#fff" stroke="#0b6b0b" stroke-width="1.0"/>
<path d="M279.17 601.28L283.92 609.08L274.42 609.08Z" fill="#fff" stroke="#0b6b0b" stroke-width="1.0"/>
<path d="M298.47 618.15L303.22 625.95L293.72 625.95Z" fill="#fff" stroke="#0b6b0b" stroke-width="1.0"/>
<path d="M317.77 618.15L322.52 625.95L313.02 625.95Z" fill="#fff" stroke="#0b6b0b" stroke-width="1.0"/>
<path d="M356.37 618.15L361.12 625.95L351.62 625.95Z" fill="#fff" stroke="#0b6b0b" stroke-width="1.0"/>
<path d="M394.97 618.15L399.72 625.95L390.22 625.95Z" fill="#fff" stroke="#0b6b0b" stroke-width="1.0"/>
<path d="M452.87 618.15L457.62 625.95L448.12 625.95Z" fill="#fff" stroke="#0b6b0b" stroke-width="1.0"/>
<path d="M510.77 618.15L515.52 625.95L506.02 625.95Z" fill="#fff" stroke="#0b6b0b" stroke-width="1.0"/>
<line x1="394.97" y1="623.45" x2="452.87" y2="557.11" stroke="#0b6b0b" stroke-width="1.0"/>
<line x1="452.87" y1="557.11" x2="510.77" y2="582.83" stroke="#0b6b0b" stroke-width="1.0"/>
<path d="M394.97 618.15L399.72 625.95L390.22 625.95Z" fill="#0b6b0b" stroke="#0b6b0b" stroke-width="1.0"/>
<path d="M452.87 551.81L457.62 559.61L448.12 559.61Z" fill="#0b6b0b" stroke="#0b6b0b" stroke-width="1.0"/>
<path d="M510.77 577.53L515.52 585.33L506.02 585.33Z" fill="#0b6b0b" stroke="#0b6b0b" stroke-width="1.0"/>
<path d="M144.07 611.98V608.26M144.07 616.36V612.64M139.57 611.98H148.57M139.57 612.64H148.57" stroke="#000000" stroke-width="0.9" fill="none"/>
<path d="M201.97 511.41V507.69M201.97 515.79V512.07M197.47 511.41H206.47M197.47 512.07H206.47" stroke="#000000" stroke-width="0.9" fill="none"/>
<path d="M240.57 604.61V600.89M240.57 608.99V605.27M236.07 604.61H245.07M236.07 605.27H245.07" stroke="#000000" stroke-width="0.9" fill="none"/>
<path d="M279.17 606.74V603.02M279.17 611.12V607.4M274.67 606.74H283.67M274.67 607.4H283.67" stroke="#000000" stroke-width="0.9" fill="none"/>
<path d="M144.07 593.8V589.83M144.07 598.43V594.46M139.57 593.8H148.57M139.57 594.46H148.57" stroke="#ff6a08" stroke-width="0.9" fill="none"/>
<path d="M182.67 469.64V466.49M182.67 475.09V471.94M178.17 469.64H187.17M178.17 471.94H187.17" stroke="#ff6a08" stroke-width="0.9" fill="none"/>
<path d="M201.97 457.03V454.04M201.97 462.64V459.65M197.47 457.03H206.47M197.47 459.65H206.47" stroke="#ff6a08" stroke-width="0.9" fill="none"/>
<path d="M216.77 436.23H225.77M216.77 444.74H225.77" stroke="#ff6a08" stroke-width="0.9" fill="none"/>
<path d="M240.57 535.65V533.65M240.57 542.25V540.24M236.07 535.65H245.07M236.07 540.24H245.07" stroke="#ff6a08" stroke-width="0.9" fill="none"/>
<path d="M279.17 603.96V601.3M279.17 609.9V607.23M274.67 603.96H283.67M274.67 607.23H283.67" stroke="#ff6a08" stroke-width="0.9" fill="none"/>
<path d="M144.07 558.75V557.04M144.07 568.64V566.94M139.57 558.75H148.57M139.57 566.94H148.57" stroke="#0b6b0b" stroke-width="0.9" fill="none"/>
<path d="M163.37 540.08V539.19M163.37 550.79V549.9M158.87 540.08H167.87M158.87 549.9H167.87" stroke="#0b6b0b" stroke-width="0.9" fill="none"/>
<path d="M182.67 481.11V478.58M182.67 490.18V487.66M178.17 481.11H187.17M178.17 487.66H187.17" stroke="#0b6b0b" stroke-width="0.9" fill="none"/>
<path d="M201.97 464.07V461.55M201.97 473.15V470.62M197.47 464.07H206.47M197.47 470.62H206.47" stroke="#0b6b0b" stroke-width="0.9" fill="none"/>
<path d="M240.57 550.23V549.35M240.57 560.95V560.06M236.07 550.23H245.07M236.07 560.06H245.07" stroke="#0b6b0b" stroke-width="0.9" fill="none"/>
<path d="M279.17 604.12V600.78M279.17 612.38V609.04M274.67 604.12H283.67M274.67 609.04H283.67" stroke="#0b6b0b" stroke-width="0.9" fill="none"/>
<path d="M452.87 554V551.31M452.87 562.91V560.22M448.37 554H457.37M448.37 560.22H457.37" stroke="#0b6b0b" stroke-width="0.9" fill="none"/>
<path d="M510.77 579.72V577.03M510.77 588.63V585.94M506.27 579.72H515.27M506.27 585.94H515.27" stroke="#0b6b0b" stroke-width="0.9" fill="none"/>
<line x1="394.5" y1="4.8" x2="394.5" y2="314.87" stroke="#ff0000" stroke-width="1.1" stroke-dasharray="4.2 4.3"/>
<line x1="394.5" y1="327.9" x2="394.5" y2="639.6" stroke="#ff0000" stroke-width="1.1" stroke-dasharray="4.2 4.3"/>
<rect x="85.96" y="3.45" width="444.04" height="310.82" fill="none" stroke="#333" stroke-width="1.4"/>
<rect x="85.96" y="328.5" width="444.04" height="311.1" fill="none" stroke="#333" stroke-width="1.4"/>
<line x1="85.96" y1="314.27" x2="85.96" y2="317.77" stroke="#333" stroke-width="1.3"/>
<line x1="105.47" y1="314.27" x2="105.47" y2="320.47" stroke="#333" stroke-width="1.3"/>
<line x1="124.77" y1="314.27" x2="124.77" y2="317.77" stroke="#333" stroke-width="1.3"/>
<line x1="144.07" y1="314.27" x2="144.07" y2="320.47" stroke="#333" stroke-width="1.3"/>
<line x1="163.37" y1="314.27" x2="163.37" y2="317.77" stroke="#333" stroke-width="1.3"/>
<line x1="182.67" y1="314.27" x2="182.67" y2="320.47" stroke="#333" stroke-width="1.3"/>
<line x1="201.97" y1="314.27" x2="201.97" y2="317.77" stroke="#333" stroke-width="1.3"/>
<line x1="221.27" y1="314.27" x2="221.27" y2="320.47" stroke="#333" stroke-width="1.3"/>
<line x1="240.57" y1="314.27" x2="240.57" y2="317.77" stroke="#333" stroke-width="1.3"/>
<line x1="259.87" y1="314.27" x2="259.87" y2="320.47" stroke="#333" stroke-width="1.3"/>
<line x1="279.17" y1="314.27" x2="279.17" y2="317.77" stroke="#333" stroke-width="1.3"/>
<line x1="298.47" y1="314.27" x2="298.47" y2="320.47" stroke="#333" stroke-width="1.3"/>
<line x1="317.77" y1="314.27" x2="317.77" y2="317.77" stroke="#333" stroke-width="1.3"/>
<line x1="337.07" y1="314.27" x2="337.07" y2="320.47" stroke="#333" stroke-width="1.3"/>
<line x1="356.37" y1="314.27" x2="356.37" y2="317.77" stroke="#333" stroke-width="1.3"/>
<line x1="375.67" y1="314.27" x2="375.67" y2="320.47" stroke="#333" stroke-width="1.3"/>
<line x1="394.97" y1="314.27" x2="394.97" y2="317.77" stroke="#333" stroke-width="1.3"/>
<line x1="414.27" y1="314.27" x2="414.27" y2="320.47" stroke="#333" stroke-width="1.3"/>
<line x1="433.57" y1="314.27" x2="433.57" y2="317.77" stroke="#333" stroke-width="1.3"/>
<line x1="452.87" y1="314.27" x2="452.87" y2="320.47" stroke="#333" stroke-width="1.3"/>
<line x1="472.17" y1="314.27" x2="472.17" y2="317.77" stroke="#333" stroke-width="1.3"/>
<line x1="491.47" y1="314.27" x2="491.47" y2="320.47" stroke="#333" stroke-width="1.3"/>
<line x1="510.77" y1="314.27" x2="510.77" y2="317.77" stroke="#333" stroke-width="1.3"/>
<line x1="530" y1="314.27" x2="530" y2="320.47" stroke="#333" stroke-width="1.3"/>
<line x1="85.96" y1="639.6" x2="85.96" y2="643.1" stroke="#333" stroke-width="1.3"/>
<line x1="105.47" y1="639.6" x2="105.47" y2="645.8" stroke="#333" stroke-width="1.3"/>
<text x="105.47" y="658.6" font-size="12.2" text-anchor="middle" fill="#000">0</text>
<line x1="124.77" y1="639.6" x2="124.77" y2="643.1" stroke="#333" stroke-width="1.3"/>
<line x1="144.07" y1="639.6" x2="144.07" y2="645.8" stroke="#333" stroke-width="1.3"/>
<text x="144.07" y="658.6" font-size="12.2" text-anchor="middle" fill="#000">20</text>
<line x1="163.37" y1="639.6" x2="163.37" y2="643.1" stroke="#333" stroke-width="1.3"/>
<line x1="182.67" y1="639.6" x2="182.67" y2="645.8" stroke="#333" stroke-width="1.3"/>
<text x="182.67" y="658.6" font-size="12.2" text-anchor="middle" fill="#000">40</text>
<line x1="201.97" y1="639.6" x2="201.97" y2="643.1" stroke="#333" stroke-width="1.3"/>
<line x1="221.27" y1="639.6" x2="221.27" y2="645.8" stroke="#333" stroke-width="1.3"/>
<text x="221.27" y="658.6" font-size="12.2" text-anchor="middle" fill="#000">60</text>
<line x1="240.57" y1="639.6" x2="240.57" y2="643.1" stroke="#333" stroke-width="1.3"/>
<line x1="259.87" y1="639.6" x2="259.87" y2="645.8" stroke="#333" stroke-width="1.3"/>
<text x="259.87" y="658.6" font-size="12.2" text-anchor="middle" fill="#000">80</text>
<line x1="279.17" y1="639.6" x2="279.17" y2="643.1" stroke="#333" stroke-width="1.3"/>
<line x1="298.47" y1="639.6" x2="298.47" y2="645.8" stroke="#333" stroke-width="1.3"/>
<text x="298.47" y="658.6" font-size="12.2" text-anchor="middle" fill="#000">100</text>
<line x1="317.77" y1="639.6" x2="317.77" y2="643.1" stroke="#333" stroke-width="1.3"/>
<line x1="337.07" y1="639.6" x2="337.07" y2="645.8" stroke="#333" stroke-width="1.3"/>
<text x="337.07" y="658.6" font-size="12.2" text-anchor="middle" fill="#000">120</text>
<line x1="356.37" y1="639.6" x2="356.37" y2="643.1" stroke="#333" stroke-width="1.3"/>
<line x1="375.67" y1="639.6" x2="375.67" y2="645.8" stroke="#333" stroke-width="1.3"/>
<text x="375.67" y="658.6" font-size="12.2" text-anchor="middle" fill="#000">140</text>
<line x1="394.97" y1="639.6" x2="394.97" y2="643.1" stroke="#333" stroke-width="1.3"/>
<line x1="414.27" y1="639.6" x2="414.27" y2="645.8" stroke="#333" stroke-width="1.3"/>
<text x="414.27" y="658.6" font-size="12.2" text-anchor="middle" fill="#000">160</text>
<line x1="433.57" y1="639.6" x2="433.57" y2="643.1" stroke="#333" stroke-width="1.3"/>
<line x1="452.87" y1="639.6" x2="452.87" y2="645.8" stroke="#333" stroke-width="1.3"/>
<text x="452.87" y="658.6" font-size="12.2" text-anchor="middle" fill="#000">180</text>
<line x1="472.17" y1="639.6" x2="472.17" y2="643.1" stroke="#333" stroke-width="1.3"/>
<line x1="491.47" y1="639.6" x2="491.47" y2="645.8" stroke="#333" stroke-width="1.3"/>
<text x="491.47" y="658.6" font-size="12.2" text-anchor="middle" fill="#000">200</text>
<line x1="510.77" y1="639.6" x2="510.77" y2="643.1" stroke="#333" stroke-width="1.3"/>
<line x1="530" y1="639.6" x2="530" y2="645.8" stroke="#333" stroke-width="1.3"/>
<text x="530" y="658.6" font-size="12.2" text-anchor="middle" fill="#000">220</text>
<line x1="79.96" y1="303.55" x2="85.96" y2="303.55" stroke="#333" stroke-width="1.4"/>
<text x="76.76" y="306.75" font-size="12.2" text-anchor="end" fill="#000">0</text>
<line x1="79.96" y1="249.96" x2="85.96" y2="249.96" stroke="#333" stroke-width="1.4"/>
<text x="76.76" y="253.16" font-size="12.2" text-anchor="end" fill="#000">5</text>
<line x1="79.96" y1="196.37" x2="85.96" y2="196.37" stroke="#333" stroke-width="1.4"/>
<text x="76.76" y="199.57" font-size="12.2" text-anchor="end" fill="#000">10</text>
<line x1="79.96" y1="142.78" x2="85.96" y2="142.78" stroke="#333" stroke-width="1.4"/>
<text x="76.76" y="145.98" font-size="12.2" text-anchor="end" fill="#000">15</text>
<line x1="79.96" y1="89.19" x2="85.96" y2="89.19" stroke="#333" stroke-width="1.4"/>
<text x="76.76" y="92.39" font-size="12.2" text-anchor="end" fill="#000">20</text>
<line x1="79.96" y1="35.6" x2="85.96" y2="35.6" stroke="#333" stroke-width="1.4"/>
<text x="76.76" y="38.8" font-size="12.2" text-anchor="end" fill="#000">25</text>
<line x1="82.46" y1="276.75" x2="85.96" y2="276.75" stroke="#333" stroke-width="1.4"/>
<line x1="82.46" y1="223.17" x2="85.96" y2="223.17" stroke="#333" stroke-width="1.4"/>
<line x1="82.46" y1="169.58" x2="85.96" y2="169.58" stroke="#333" stroke-width="1.4"/>
<line x1="82.46" y1="115.99" x2="85.96" y2="115.99" stroke="#333" stroke-width="1.4"/>
<line x1="82.46" y1="62.4" x2="85.96" y2="62.4" stroke="#333" stroke-width="1.4"/>
<line x1="82.46" y1="8.81" x2="85.96" y2="8.81" stroke="#333" stroke-width="1.4"/>
<line x1="79.96" y1="623.5" x2="85.96" y2="623.5" stroke="#333" stroke-width="1.4"/>
<text x="76.76" y="626.7" font-size="12.2" text-anchor="end" fill="#000">0</text>
<line x1="79.96" y1="574.33" x2="85.96" y2="574.33" stroke="#333" stroke-width="1.4"/>
<text x="76.76" y="577.53" font-size="12.2" text-anchor="end" fill="#000">3</text>
<line x1="79.96" y1="525.17" x2="85.96" y2="525.17" stroke="#333" stroke-width="1.4"/>
<text x="76.76" y="528.37" font-size="12.2" text-anchor="end" fill="#000">6</text>
<line x1="79.96" y1="476" x2="85.96" y2="476" stroke="#333" stroke-width="1.4"/>
<text x="76.76" y="479.2" font-size="12.2" text-anchor="end" fill="#000">9</text>
<line x1="79.96" y1="426.83" x2="85.96" y2="426.83" stroke="#333" stroke-width="1.4"/>
<text x="76.76" y="430.03" font-size="12.2" text-anchor="end" fill="#000">12</text>
<line x1="79.96" y1="377.67" x2="85.96" y2="377.67" stroke="#333" stroke-width="1.4"/>
<text x="76.76" y="380.87" font-size="12.2" text-anchor="end" fill="#000">15</text>
<line x1="79.96" y1="328.5" x2="85.96" y2="328.5" stroke="#333" stroke-width="1.4"/>
<text x="76.76" y="331.7" font-size="12.2" text-anchor="end" fill="#000">18</text>
<line x1="82.46" y1="598.92" x2="85.96" y2="598.92" stroke="#333" stroke-width="1.4"/>
<line x1="82.46" y1="549.75" x2="85.96" y2="549.75" stroke="#333" stroke-width="1.4"/>
<line x1="82.46" y1="500.58" x2="85.96" y2="500.58" stroke="#333" stroke-width="1.4"/>
<line x1="82.46" y1="451.42" x2="85.96" y2="451.42" stroke="#333" stroke-width="1.4"/>
<line x1="82.46" y1="402.25" x2="85.96" y2="402.25" stroke="#333" stroke-width="1.4"/>
<line x1="82.46" y1="353.08" x2="85.96" y2="353.08" stroke="#333" stroke-width="1.4"/>
<line x1="128.8" y1="18.4" x2="133.5" y2="18.4" stroke="#ff0000" stroke-width="1.18"/>
<line x1="148.4" y1="18.4" x2="153" y2="18.4" stroke="#ff0000" stroke-width="1.18"/>
<circle cx="142.5" cy="18.4" r="3.8" fill="#fff" stroke="#ff0000" stroke-width="1.15"/>
<text x="163" y="22.6" font-size="12.28" fill="#000">TBBPA in non-sterile soil under anoxic condition</text>
<line x1="128.8" y1="33.28" x2="156.3" y2="33.28" stroke="#ff0000" stroke-width="1.18"/>
<circle cx="142.5" cy="33.28" r="3.95" fill="#ff0000" stroke="#ff0000" stroke-width="1.15"/>
<text x="163" y="37.48" font-size="12.28" fill="#000">TBBPA in non-sterile soil under oxic condition</text>
<line x1="128.8" y1="48.16" x2="133.5" y2="48.16" stroke="#6f00ff" stroke-width="1.18"/>
<line x1="148.4" y1="48.16" x2="153" y2="48.16" stroke="#6f00ff" stroke-width="1.18"/>
<rect x="138.95" y="44.61" width="7.1" height="7.1" fill="#fff" stroke="#6f00ff" stroke-width="1.15"/>
<text x="163" y="52.36" font-size="12.28" fill="#000">BPA in non-sterile soil under anoxic condition</text>
<line x1="128.8" y1="63.04" x2="156.3" y2="63.04" stroke="#6f00ff" stroke-width="1.18"/>
<rect x="139.2" y="59.74" width="6.6" height="6.6" fill="#6f00ff" stroke="#6f00ff" stroke-width="1.15"/>
<text x="163" y="67.24" font-size="12.28" fill="#000">BPA in non-sterile soil under oxic condition</text>
<line x1="128.8" y1="77.92" x2="133.5" y2="77.92" stroke="#0000ff" stroke-width="1.18"/>
<line x1="148.4" y1="77.92" x2="153" y2="77.92" stroke="#0000ff" stroke-width="1.18"/>
<path d="M142.5 72.62L147.25 80.42L137.75 80.42Z" fill="#fff" stroke="#0000ff" stroke-width="1.15"/>
<text x="163" y="82.12" font-size="12.28" fill="#000">TBBPA in sterile soil under anoxic condition</text>
<line x1="128.8" y1="92.8" x2="133.5" y2="92.8" stroke="#00ff00" stroke-width="1.18"/>
<line x1="148.4" y1="92.8" x2="153" y2="92.8" stroke="#00ff00" stroke-width="1.18"/>
<path d="M142.5 98.1L147.25 90.3L137.75 90.3Z" fill="#fff" stroke="#00ff00" stroke-width="1.15"/>
<text x="163" y="97" font-size="12.28" fill="#000">BPA in sterile soil under anoxic condition</text>
<line x1="149.5" y1="340.6" x2="154.2" y2="340.6" stroke="#000000" stroke-width="1.0"/>
<line x1="169.1" y1="340.6" x2="173.7" y2="340.6" stroke="#000000" stroke-width="1.0"/>
<rect x="159.65" y="337.05" width="7.1" height="7.1" fill="#fff" stroke="#000000" stroke-width="1.0"/>
<text x="183.8" y="344.8" font-size="12.28" fill="#000">mono-BBPA under anoxic condition</text>
<line x1="149.5" y1="355.48" x2="177" y2="355.48" stroke="#000000" stroke-width="1.0"/>
<rect x="159.9" y="352.18" width="6.6" height="6.6" fill="#000000" stroke="#000000" stroke-width="1.0"/>
<text x="183.8" y="359.68" font-size="12.28" fill="#000">mono-BBPA under oxic condition</text>
<line x1="149.5" y1="370.36" x2="154.2" y2="370.36" stroke="#ff6a08" stroke-width="1.0"/>
<line x1="169.1" y1="370.36" x2="173.7" y2="370.36" stroke="#ff6a08" stroke-width="1.0"/>
<circle cx="163.2" cy="370.36" r="3.8" fill="#fff" stroke="#ff6a08" stroke-width="1.0"/>
<text x="183.8" y="374.56" font-size="12.28" fill="#000">di-BBPA under anoxic condition</text>
<line x1="149.5" y1="385.24" x2="177" y2="385.24" stroke="#ff6a08" stroke-width="1.0"/>
<circle cx="163.2" cy="385.24" r="3.95" fill="#ff6a08" stroke="#ff6a08" stroke-width="1.0"/>
<text x="183.8" y="389.44" font-size="12.28" fill="#000">di-BBPA under oxic condition</text>
<line x1="149.5" y1="400.12" x2="154.2" y2="400.12" stroke="#0b6b0b" stroke-width="1.0"/>
<line x1="169.1" y1="400.12" x2="173.7" y2="400.12" stroke="#0b6b0b" stroke-width="1.0"/>
<path d="M163.2 394.82L167.95 402.62L158.45 402.62Z" fill="#fff" stroke="#0b6b0b" stroke-width="1.0"/>
<text x="183.8" y="404.32" font-size="12.28" fill="#000">tri-BBPA under anoxic condition</text>
<line x1="149.5" y1="415" x2="177" y2="415" stroke="#0b6b0b" stroke-width="1.0"/>
<path d="M163.2 409.7L167.95 417.5L158.45 417.5Z" fill="#0b6b0b" stroke="#0b6b0b" stroke-width="1.0"/>
<text x="183.8" y="419.2" font-size="12.28" fill="#000">tri-BBPA under oxic condition</text>
<text x="106.4" y="24.8" font-size="15.6" fill="#000">a</text>
<text x="105.9" y="355.8" font-size="16" fill="#000">b</text>
<text x="298.7" y="117" font-size="16" fill="#000">Anoxic</text>
<text x="454.3" y="116.5" font-size="16" fill="#000">Oxic</text>
<text x="303.5" y="500.5" font-size="16" fill="#000">Anoxic</text>
<text x="440.3" y="502.1" font-size="16" fill="#000">Oxic</text>
<text x="301.5" y="678" font-size="16" text-anchor="middle" fill="#000">Incubation time (d)</text>
<text transform="translate(16,160) rotate(-90)" font-size="16.1" text-anchor="middle" fill="#000">Concentration of TBBPA or BPA</text>
<text transform="translate(39.3,160.5) rotate(-90)" font-size="16" text-anchor="middle" fill="#000">(mg•L<tspan font-size="10" dy="-7.6">-1</tspan><tspan dy="7.6">)</tspan></text>
<text transform="translate(32.3,481.5) rotate(-90)" font-size="16" text-anchor="middle" fill="#000">Concentration of intermediates</text>
<text transform="translate(52.3,475.2) rotate(-90)" font-size="16.08" text-anchor="middle" fill="#000">(% of initial TBBPA concentration)</text>
</svg>
</body></html>
